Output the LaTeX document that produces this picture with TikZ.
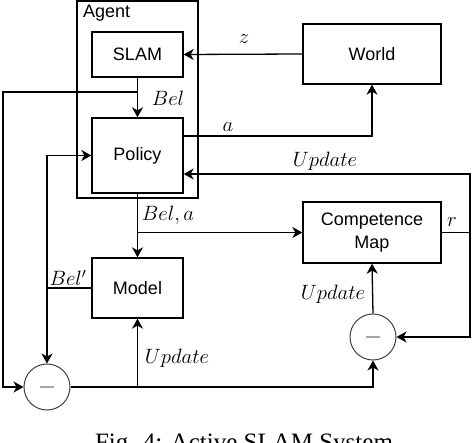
\documentclass[tikz,border=0pt]{standalone}
\usepackage{fontspec}
\newfontfamily\arialfont{Liberation Sans}
\newfontfamily\timesfont{Liberation Serif}
\usetikzlibrary{arrows.meta,calc}
\tikzset{
  box/.style={draw, line width=1.3pt, rectangle, inner sep=0pt, align=center,
    font=\arialfont\fontsize{18}{23}\selectfont},
  sumnode/.style={draw=black!75, line width=1pt, circle, minimum size=46pt, inner sep=0pt},
  wire/.style={line width=1.3pt},
  arr/.style={wire, -{Stealth[length=10pt,width=11pt,inset=3pt]}},
  lbl/.style={font=\fontsize{20}{24}\selectfont, inner sep=0pt},
}
\begin{document}
\begin{tikzpicture}[x=1pt,y=-1pt]
\useasboundingbox (0,0) rectangle (474,443);
% agent frame
\node[draw, line width=1.3pt, minimum width=121pt, minimum height=197pt, inner sep=0pt] (agent) at (137.5,99.5) {};
\node[anchor=base west, inner sep=0pt, font=\arialfont\fontsize{18}{22}\selectfont] (agentlbl) at (83,18) {Agent};
% boxes
\node[box, minimum width=91pt, minimum height=45pt] (slam) at (137.5,54.5) {SLAM};
\node[box, minimum width=91pt, minimum height=75pt] (policy) at (137.5,155.5) {Policy};
\node[box, minimum width=138pt, minimum height=60pt] (world) at (372,54) {World};
\node[box, minimum width=138pt, minimum height=61pt] (comp) at (372,232.5) {Competence\\Map};
\node[box, minimum width=91pt, minimum height=60pt] (model) at (137.5,288) {Model};
% summing junctions
\node[sumnode] (c1) at (47,387) {};
\node[sumnode] (c2) at (373,337) {};
\draw[black!35, line width=1.2pt] ($(c1.center)+(-7,0)$) -- ($(c1.center)+(7,0)$);
\draw[black!35, line width=1.2pt] ($(c2.center)+(-7,0)$) -- ($(c2.center)+(7,0)$);
% junction coordinates
\coordinate (jbel) at (137.5,92);
\coordinate (jbela) at (137.5,232.5);
\coordinate (jbelp) at (47,288);
\coordinate (jr) at (470,232.5);
\coordinate (jupd) at (137.5,387);
% connectors
\draw[arr] (world.west) -- (slam.east);
\draw[arr] (slam.south) -- (policy.north);
\draw[arr] (policy.east |- 0,136) -- (world.south |- 0,136) -- (world.south);
\draw[wire] (comp.east) -- (jr);
\draw[arr] (jr) -- (470,174) -- (policy.east |- 0,174);
\draw[arr] (jr) -- (470,337) -- (c2.east);
\draw[arr] (policy.south) -- (model.north);
\draw[arr] (jbela) -- (comp.west);
\draw[wire] (model.west) -- (jbelp);
\draw[arr] (jbelp) -- (47,155.5) -- (policy.west);
\draw[arr] (jbelp) -- (c1.north);
\draw[arr] (jbel) -- (3,92) -- (3,387) -- (c1.west);
\draw[arr] (c1.east) -- (c2.south |- 0,387) -- (c2.south);
\draw[arr] (jupd) -- (model.south);
\draw[arr] (c2.north) -- (comp.south);
% labels
\node[lbl] (lz) at (244,39) {$z$};
\node[lbl] (la) at (228,127) {$a$};
\node[lbl] (lbel) at (168,98) {$Bel$};
\node[lbl] (lupd1) at (325,161) {$Update$};
\node[lbl] (lbela) at (168,215) {$Bel,a$};
\node[lbl] (lbelp) at (68,278) {$Bel'$};
\node[lbl] (lupd2) at (177,358) {$Update$};
\node[lbl] (lupd3) at (333,294) {$Update$};
\node[lbl] (lr) at (452,222) {$r$};
% caption (cut by the frame)
\node[anchor=base, inner sep=0pt, font=\timesfont\fontsize{25}{30}\selectfont] (cap) at (244,450) {Fig. 4: Active SLAM System};
\end{tikzpicture}
\end{document}
